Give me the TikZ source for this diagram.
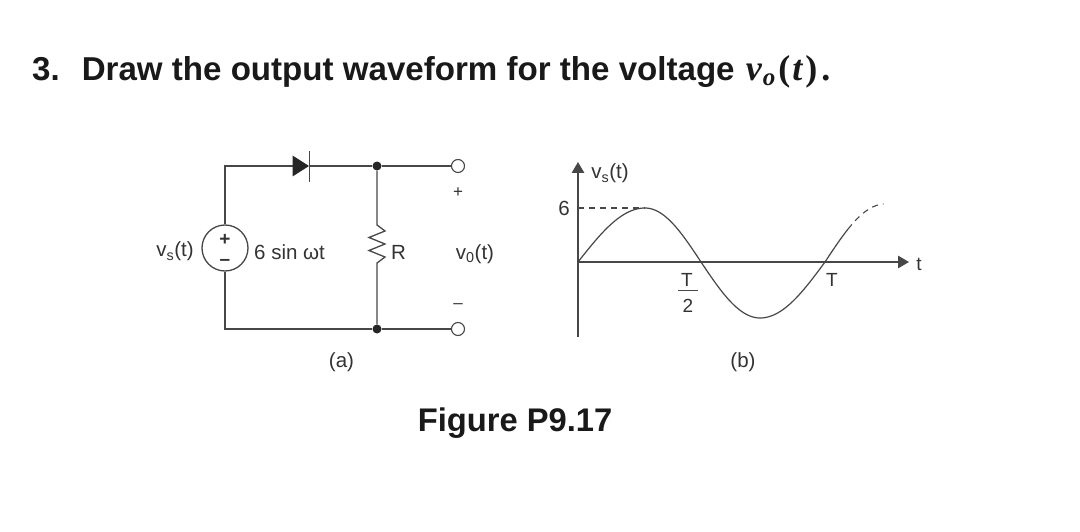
\documentclass[tikz,border=0pt]{standalone}
\usepackage{fontspec}
\setmainfont{Liberation Sans}
\newfontfamily\mathlike{Liberation Serif}
\usetikzlibrary{arrows.meta}
\definecolor{ink}{gray}{0.28}
\definecolor{txt}{gray}{0.2}
\tikzset{
  wire/.style={draw=ink,line width=1.3pt},
  lab/.style={inner sep=0pt,text=txt,font=\fontsize{20.5}{24}\selectfont,anchor=base},
  labs/.style={inner sep=0pt,text=txt,font=\fontsize{19}{22}\selectfont,anchor=base},
  dotn/.style={circle,fill=black!85,draw=none,minimum size=9pt,inner sep=0pt},
  term/.style={circle,draw=ink,fill=white,line width=1.1pt,minimum size=13pt,inner sep=0pt},
  axisline/.style={draw=ink,line width=1.3pt,-{Triangle[length=11pt,width=12.5pt]}},
  dashline/.style={draw=ink,line width=1.1pt,dash pattern=on 6pt off 5pt}
}
\begin{document}
\begin{tikzpicture}[x=1pt,y=-1pt]
\useasboundingbox[fill=white] (0,0) rectangle (1080,532);
% title
\node[inner sep=0pt,anchor=base west,text=black!90,font=\fontsize{33.1}{38}\selectfont\bfseries] (title) at (32,81) {3.\hspace{22pt}Draw the output waveform for the voltage\hspace{2pt} {\mathlike\fontsize{36}{38}\selectfont\itshape v\hspace{1pt}\raisebox{-5pt}{\fontsize{25}{26}\selectfont o}\hspace{3pt}{\upshape(}\hspace{2pt}t\hspace{3pt}{\upshape)}\hspace{4pt}{\upshape .}}};
% circuit
\coordinate (tl) at (225,166);
\coordinate (bl) at (225,329);
\node[circle,draw=ink,line width=1.3pt,minimum size=46pt,inner sep=0pt] (src) at (225,248) {};
\node[labs,font=\fontsize{19}{20}\selectfont\bfseries] (plus) at (225,246) {+};
\node[inner sep=0pt,text=txt,font=\fontsize{19}{20}\selectfont\bfseries] (minus) at (225,262) {–};
\coordinate (da) at (293,166);
\coordinate (dk) at (309.5,166);
\node[dotn] (ntop) at (377,166) {};
\node[dotn] (nbot) at (377,329) {};
\node[term] (ttop) at (458,166) {};
\node[term] (tbot) at (458,329) {};
\coordinate (rt) at (377,225);
\coordinate (rb) at (377,270);
\draw[wire] (src.north) -- (tl) -- (da);
\draw[wire] (dk) -- (ntop) -- (ttop);
\draw[wire] (src.south) -- (bl) -- (nbot) -- (tbot);
\draw[wire] (ntop) -- (rt) -- ++(8,6) -- ++(-16,6.5) -- ++(16,6.5) -- ++(-16,6.5) -- ++(16,6.5) -- ++(-8,6) -- (rb) -- (nbot);
\fill[black!85] (292.5,155.5) -- (309,166) -- (292.5,176.5) -- cycle;
\draw[ink,line width=1.3pt] (309.5,151) -- (309.5,182);
\node[lab] (vs) at (175,257) {v\textsubscript{s}(t)};
\node[lab,anchor=base west] (sin) at (254,259) {6 sin ωt};
\node[lab,anchor=base west] (r) at (391,259) {R};
\node[lab] (vo) at (475,259) {v\textsubscript{0}(t)};
\node[labs,font=\fontsize{17}{18}\selectfont] (p2) at (458,197) {+};
\node[inner sep=0pt,text=txt,font=\fontsize{17}{18}\selectfont] (m2) at (458,306) {–};
\node[lab] (a) at (341.5,367) {(a)};
% graph
\coordinate (o) at (578,262);
\coordinate (ybot) at (578,337);
\coordinate (ytop) at (578,162);
\coordinate (xend) at (909,262);
\draw[axisline] (ybot) -- (ytop);
\draw[axisline] (o) -- (xend);
\coordinate (peak) at (645,208);
\draw[dashline] (578,208) -- (peak);
\draw[draw=ink,line width=1.2pt] plot[domain=0:90,samples=30] ({578+67*\x/90},{262-54*sin(\x)})
  -- plot[domain=0:90,samples=30] ({645+56*\x/90},{262-54*cos(\x)})
  -- plot[domain=0:90,samples=30] ({701+59*\x/90},{262+56*sin(\x)})
  -- plot[domain=0:90,samples=30] ({760+65*\x/90},{262+56*cos(\x)})
  -- plot[domain=0:34.5,samples=15] ({825+60*\x/90},{262-58*sin(\x)});
\draw[dashline] plot[domain=34.5:88,samples=15] ({825+60*\x/90},{262-58*sin(\x)});
\node[lab] (vsb) at (610,179) {v\textsubscript{s}(t)};
\node[lab] (six) at (564,215) {6};
\node[labs] (t) at (919,270) {t};
\node[labs] (tt) at (687,287) {T};
\draw[draw=ink,line width=1pt] (678,290) -- (698,290);
\node[labs] (two) at (688,312) {2};
\node[labs] (tf) at (832,287) {T};
\node[lab] (b) at (743,367) {(b)};
\node[inner sep=0pt,anchor=base,text=black!90,font=\fontsize{32.7}{36}\selectfont\bfseries] (fig) at (515,431) {Figure P9.17};
\end{tikzpicture}
\end{document}
